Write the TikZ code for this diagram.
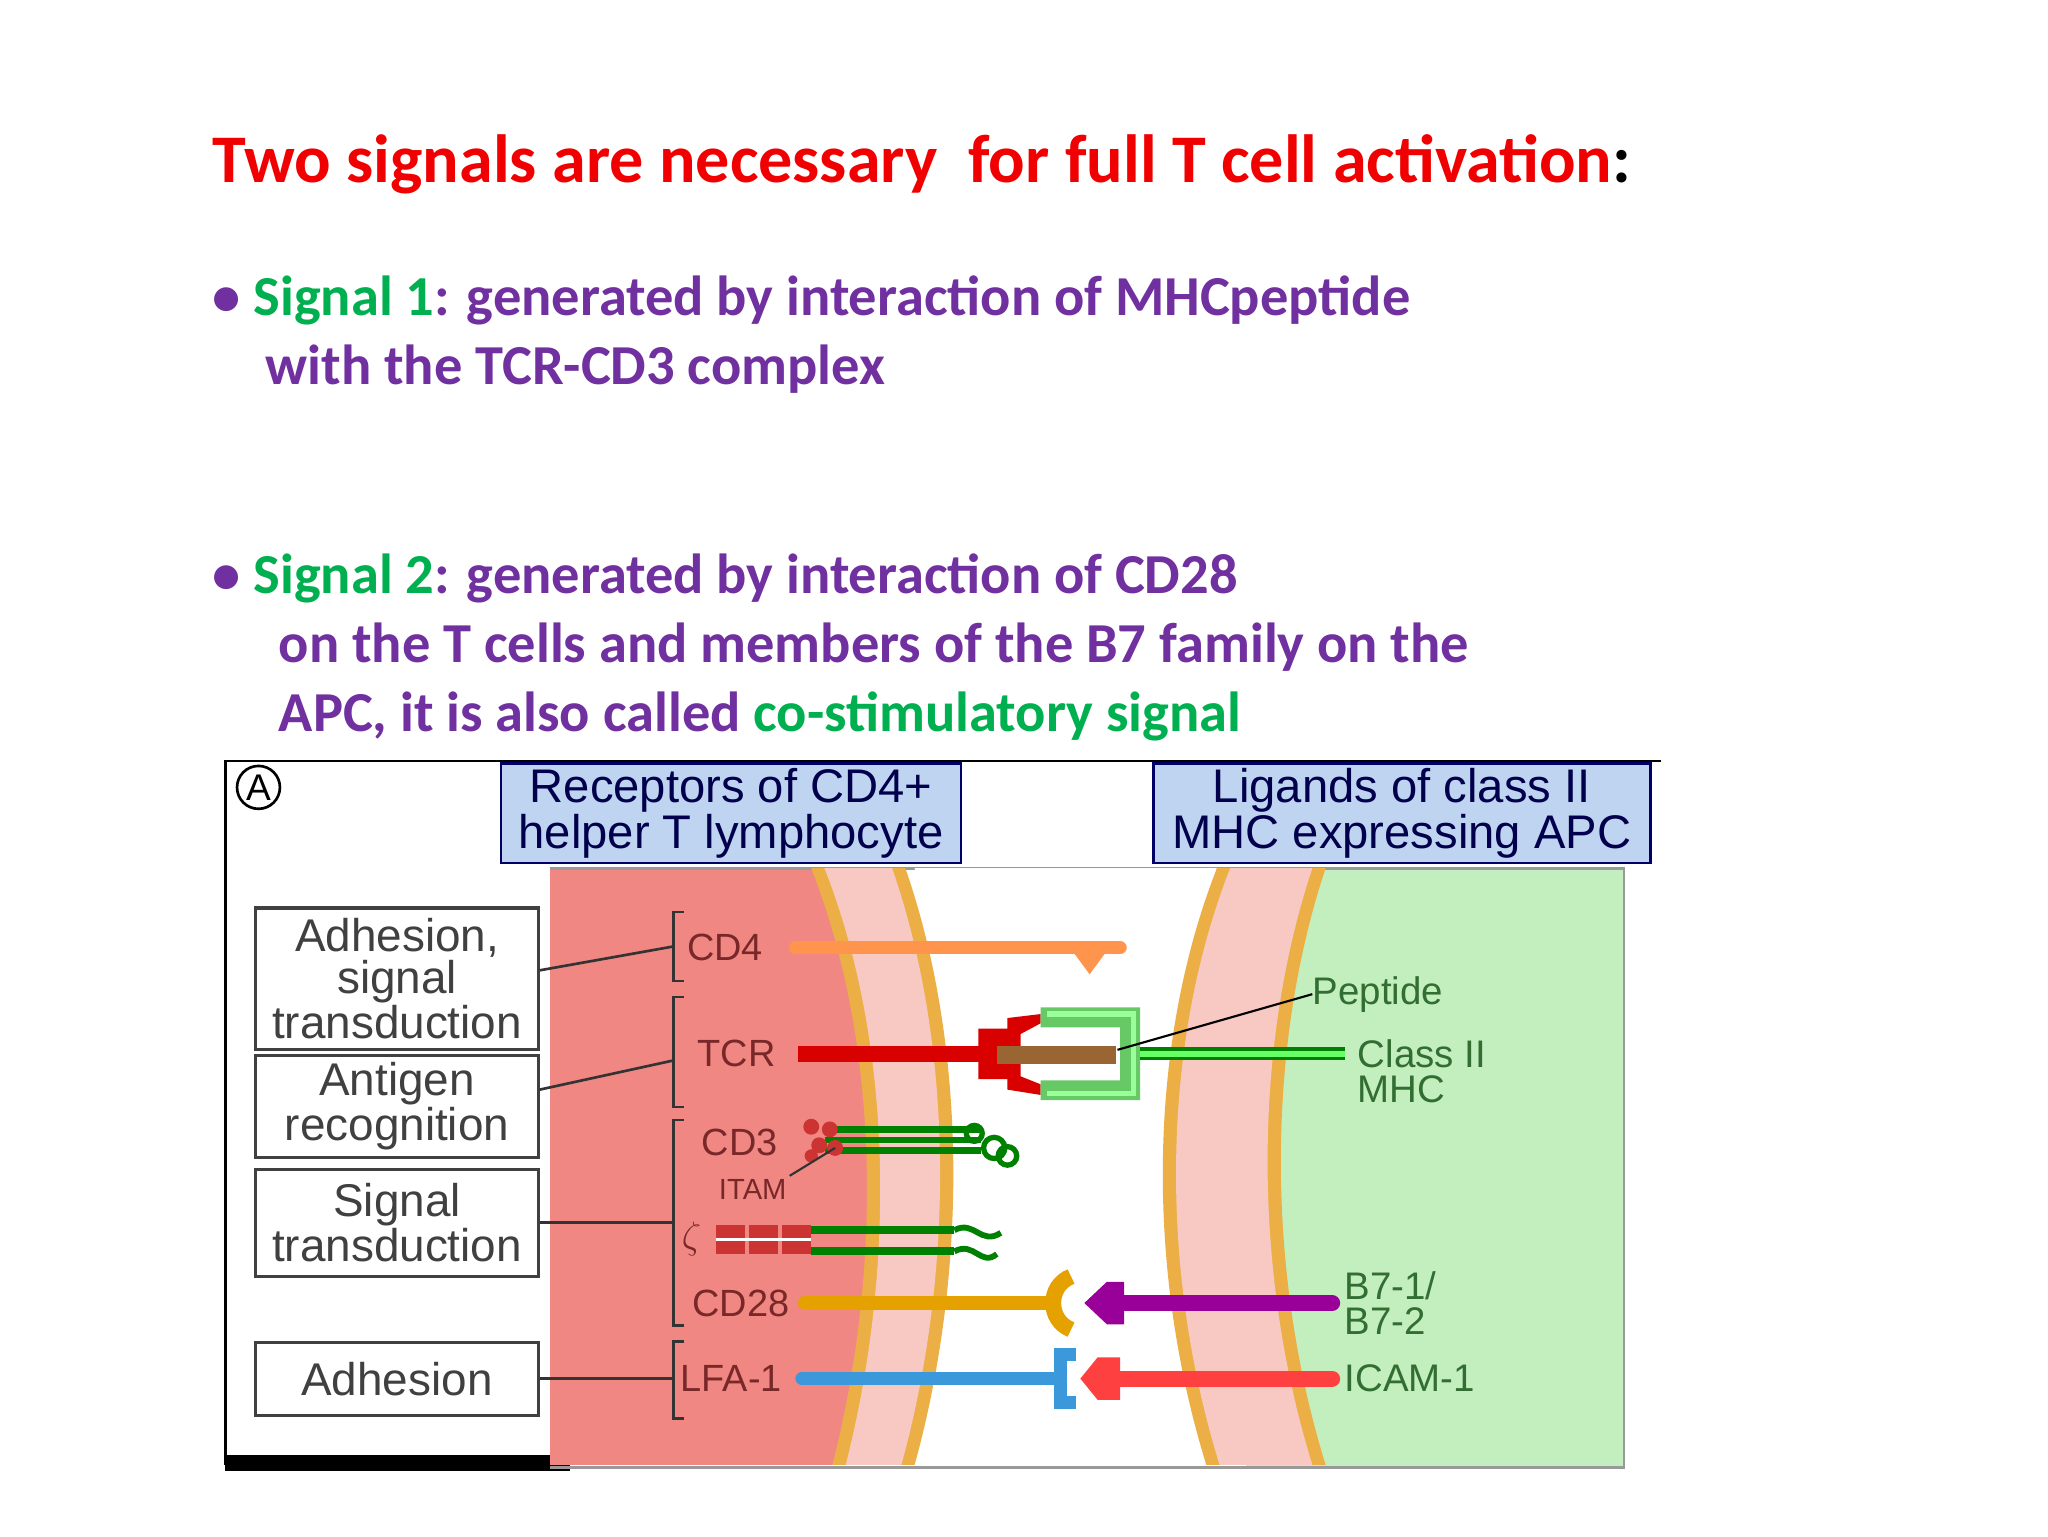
\documentclass[tikz,border=0pt]{standalone}
\usepackage{fontspec}
\setmainfont{Carlito}
\newfontfamily\arialf{Liberation Sans}
\begin{document}
\begin{tikzpicture}[x=0.5pt,y=-0.5pt,
  ttl/.style={anchor=base west,inner sep=0,font=\bfseries\fontsize{25.7}{28}\selectfont},
  bul/.style={anchor=base west,inner sep=0,font=\bfseries\fontsize{21.3}{24}\selectfont,text=pur},
  lbox/.style={draw=black!75,line width=1.2pt,fill=white,align=center,inner sep=0,font=\arialf\fontsize{17.3}{15.8}\selectfont,text=black!75},
  hbox/.style={draw=black!60!blue,line width=1pt,fill=hblue,align=center,inner sep=0,font=\arialf\fontsize{17.8}{16}\selectfont,text=black!70!blue},
  ml/.style={font=\arialf\fontsize{14.3}{14}\selectfont,text=lred,inner sep=1pt},
  mr/.style={font=\arialf\fontsize{14.5}{13}\selectfont,text=dgreen,inner sep=0,anchor=west,align=left},
  brk/.style={black!80,line width=1pt},
  ]
\definecolor{tred}{RGB}{240,0,0}
\definecolor{sgreen}{RGB}{0,176,80}
\definecolor{pur}{RGB}{112,48,160}
\definecolor{hblue}{RGB}{190,212,240}
\definecolor{tcell}{RGB}{240,135,130}
\definecolor{apc}{RGB}{195,238,190}
\definecolor{memb}{RGB}{248,200,195}
\definecolor{orm}{RGB}{235,175,70}
\definecolor{lred}{RGB}{120,40,40}
\definecolor{dgreen}{RGB}{50,110,50}
\useasboundingbox (0,0) rectangle (1545,1159);
% text
\node[ttl] (t) at (160,138) {\textcolor{tred}{Two signals are necessary\ \ for full T cell activation}:};
\node[bul] (s1) at (160,238) {\textcolor{pur}{\textbullet}\ \textcolor{sgreen}{Signal 1}: generated by interaction of MHCpeptide};
\node[bul] (s1b) at (200,290) {with the TCR-CD3 complex};
\node[bul] (s2) at (160,448) {\textcolor{pur}{\textbullet}\ \textcolor{sgreen}{Signal 2}: generated by interaction of CD28};
\node[bul] (s2b) at (210,500) {on the T cells and members of the B7 family on the};
\node[bul] (s2c) at (210,552) {APC, it is also called \textcolor{sgreen}{co-stimulatory signal}};
% frame
\draw[line width=1pt] (170,1105) -- (170,574) -- (1253,574);
\fill (170,1098) rectangle (430,1110);
\node[draw,circle,line width=1pt,inner sep=1pt,font=\arialf\fontsize{14}{14}\selectfont] (A) at (195,594) {A};
% regions
\fill[tcell] (415,655) rectangle (660,1105);
\fill[apc] (940,655) rectangle (1225,1107);
\draw[black!40,line width=1pt] (415,655) -- (1225,655) -- (1225,1107) -- (415,1107);
% T-cell membrane
\fill[orm] (612,655) .. controls (665,790) and (665,960) .. (628,1105) -- (690,1105) .. controls (730,960) and (730,790) .. (683,655) -- cycle;
\fill[memb] (622,655) .. controls (675,790) and (675,960) .. (638,1105) -- (680,1105) .. controls (720,960) and (720,790) .. (673,655) -- cycle;
\fill[white] (690,655) .. controls (737,790) and (737,960) .. (697,1105) -- (910,1105) .. controls (865,960) and (865,790) .. (918,655) -- cycle;
\fill[orm] (918,655) .. controls (865,790) and (865,960) .. (910,1105) -- (1000,1105) .. controls (955,960) and (955,790) .. (1000,655) -- cycle;
\fill[memb] (928,655) .. controls (875,790) and (875,960) .. (920,1105) -- (990,1105) .. controls (945,960) and (945,790) .. (990,655) -- cycle;
% headers
\node[hbox,minimum width=173.5pt,minimum height=37.5pt] (h1) at (551.5,613.5) {Receptors of CD4+\\helper T lymphocyte};
\node[hbox,minimum width=187.5pt,minimum height=37.5pt] (h2) at (1057.5,613.5) {Ligands of class II\\MHC expressing APC};
% left boxes
\node[lbox,minimum width=106.5pt,minimum height=53.5pt] (b1) at (299.5,738.5) {Adhesion,\\signal\\transduction};
\node[lbox,minimum width=106.5pt,minimum height=38.5pt] (b2) at (299.5,834.5) {Antigen\\recognition};
\node[lbox,minimum width=106.5pt,minimum height=40.5pt] (b3) at (299.5,922.5) {Signal\\transduction};
\node[lbox,minimum width=106.5pt,minimum height=27.5pt] (b4) at (299.5,1040.5) {Adhesion};
% brackets
\draw[brk] (516,688) -- (508,688) -- (508,740) -- (516,740);
\draw[brk] (516,752) -- (508,752) -- (508,835) -- (516,835);
\draw[brk] (516,845) -- (508,845) -- (508,1000) -- (516,1000);
\draw[brk] (516,1012) -- (508,1012) -- (508,1070) -- (516,1070);
\coordinate (k1) at (508,714);
\coordinate (k2) at (508,800);
\coordinate (k3) at (508,922);
\coordinate (k4) at (508,1040);
\draw[brk] (b1.east|-0,732) -- (k1);
\draw[brk] (b2.east|-0,822) -- (k2);
\draw[brk] (b3.east|-0,922) -- (k3);
\draw[brk] (b4.east|-0,1040) -- (k4);
% labels
\node[ml,anchor=west] (cd4) at (516,715) {CD4};
\node[ml,anchor=west] (tcr) at (524,795) {TCR};
\node[ml,anchor=west] (cd3) at (527,862) {CD3};
\node[ml,anchor=west,font=\arialf\fontsize{11}{11}\selectfont] (itam) at (540,897) {ITAM};
\node[ml,anchor=west,font=\fontsize{15}{15}\selectfont] (zeta) at (512,935) {$\zeta$};
\node[ml,anchor=west] (cd28) at (520,983) {CD28};
\node[ml,anchor=west] (lfa) at (511,1040) {LFA-1};
% CD4
\draw[orange!80!red!70,line width=5pt,line cap=round] (600,715) -- (845,715);
\fill[orange!80!red!70] (808,716) -- (836,716) -- (822,735) -- cycle;
% TCR
\draw[red!85!black,line width=6pt] (602,795) -- (745,795);
\fill[red!85!black] (738,776) -- (760,776) -- (760,768) -- (785,765) -- (785,772) -- (770,780) -- (770,812) -- (785,818) -- (785,826) -- (760,822) -- (760,814) -- (738,814) -- cycle;
\fill[green!65!black!60] (785,760) -- (860,760) -- (860,830) -- (785,830) -- (785,815) -- (845,815) -- (845,775) -- (785,775) -- cycle;
\draw[green!40,line width=2pt] (790,765) -- (855,765) -- (855,825) -- (790,825);
\draw[green!50!black,line width=5pt] (860,795) -- (1015,795);
\draw[green!60,line width=2.5pt] (860,795) -- (1015,795);
\fill[brown!80!black] (752,789) rectangle (842,803);
\node[mr] (pep) at (990,750) {Peptide};
\draw[black,line width=0.8pt] (843,792) -- (pep.west);
\node[mr] (mhc) at (1024,808) {Class II\\MHC};
% CD3
\foreach \yy in {852,860,868} \draw[green!50!black,line width=2.5pt] (622,\yy) -- (740,\yy);
\draw[green!50!black,line width=2pt] (735,855) circle (6) (750,866) circle (8) (760,872) circle (7);
\fill[red!75!black!80] (612,850) circle (6) (626,852) circle (6) (618,864) circle (6) (630,866) circle (6) (612,872) circle (5);
\draw[black!80,line width=0.8pt] (itam.north east) -- (630,866);
% zeta
\foreach \xx in {540,565,590} \fill[red!75!black!80] (\xx,924) rectangle ++(22,22);
\draw[white,line width=1pt] (540,935) -- (612,935);
\draw[green!50!black,line width=3pt] (612,928) -- (720,928) (612,944) -- (720,944);
\draw[green!50!black,line width=2.2pt] (720,928) .. controls (735,920) and (740,940) .. (755,930) (720,944) .. controls (735,936) and (740,956) .. (752,946);
% CD28
\draw[orange!60!yellow!90!black,line width=5pt,line cap=round] (607,983) -- (795,983);
\draw[orange!60!yellow!90!black,line width=6pt] (808,963) .. controls (790,970) and (790,996) .. (808,1003);
\fill[violet!80!magenta] (818,983) -- (835,967) -- (848,967) -- (848,999) -- (835,999) -- cycle;
\draw[violet!80!magenta,line width=6pt,line cap=round] (845,983) -- (1005,983);
\node[mr] (b7) at (1014,983) {B7-1/\\B7-2};
% LFA-1
\draw[cyan!70!blue!80,line width=5pt,line cap=round] (605,1040) -- (800,1040);
\draw[cyan!70!blue!80,line width=5pt] (812,1022) -- (800,1022) -- (800,1058) -- (812,1058);
\fill[red!75] (815,1040) -- (828,1024) -- (845,1024) -- (845,1056) -- (828,1056) -- cycle;
\draw[red!75,line width=6pt,line cap=round] (845,1040) -- (1005,1040);
\node[mr] (icam) at (1014,1040) {ICAM-1};
\end{tikzpicture}
\end{document}
